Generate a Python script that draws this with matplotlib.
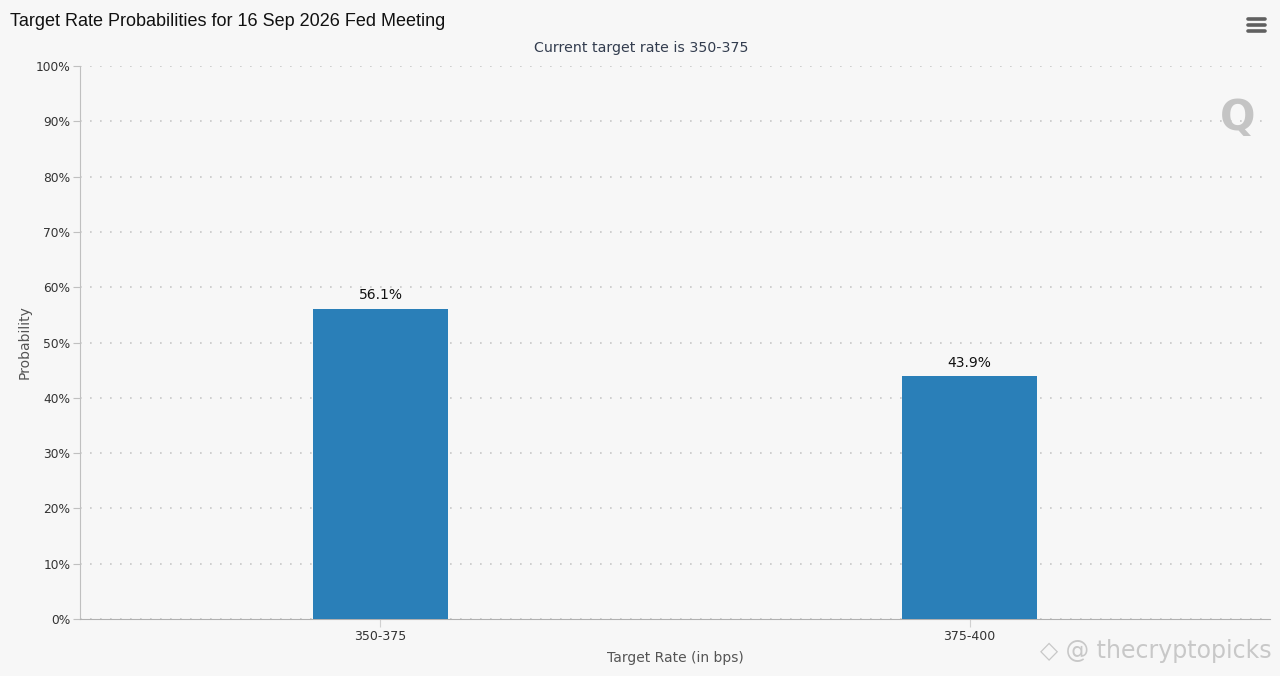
import matplotlib
matplotlib.use("Agg")
import matplotlib.pyplot as plt
from matplotlib.ticker import FuncFormatter

categories = ["350-375", "375-400"]
probabilities = [56.1, 43.9]
value_labels = ["56.1%", "43.9%"]
yticks = [0, 10, 20, 30, 40, 50, 60, 70, 80, 90, 100]

bg = "#f7f7f7"
bar_color = "#2a7fb8"

fig = plt.figure(figsize=(12.8, 6.76), dpi=100, facecolor=bg)
ax = fig.add_axes([80 / 1280, 1 - 619 / 676, 1190 / 1280, 553 / 676])
ax.set_facecolor(bg)

x = range(len(categories))
bars = ax.bar(x, probabilities, width=0.229, color=bar_color, zorder=3)
for b, lab in zip(bars, value_labels):
    ax.text(b.get_x() + b.get_width() / 2, b.get_height() + 1.2, lab,
            ha="center", va="bottom", fontsize=10, color="#111111",
            family="DejaVu Sans")

ax.set_xlim(-0.51, 1.51)
ax.set_ylim(0, 100)
ax.set_yticks(yticks)
ax.yaxis.set_major_formatter(FuncFormatter(lambda v, p: f"{int(v)}%"))
ax.set_xticks(list(x))
ax.set_xticklabels(categories)

ax.grid(axis="y", linestyle=(0, (1, 5)), color="#c8c8c8", linewidth=1.2, zorder=0)
ax.grid(axis="x", visible=False)

for s in ["top", "right"]:
    ax.spines[s].set_visible(False)
ax.spines["left"].set_color("#c0c0c0")
ax.spines["bottom"].set_color("#b0b0b0")
ax.tick_params(axis="y", length=5, color="#c0c0c0", labelsize=8.8, labelcolor="#333333", pad=2)
ax.tick_params(axis="x", length=6, color="#d0d0d0", labelsize=9, labelcolor="#333333", pad=2)
for t in ax.get_xticklabels() + ax.get_yticklabels():
    t.set_family("DejaVu Sans")

ax.set_ylabel("Probability", fontsize=10, color="#555555", labelpad=3)
ax.set_xlabel("Target Rate (in bps)", fontsize=10, color="#555555", labelpad=6)

fig.text(10 / 1280, 1 - 21 / 676, "Target Rate Probabilities for 16 Sep 2026 Fed Meeting",
         fontsize=13, family="Liberation Sans", color="#111111", ha="left", va="center")
fig.text(641 / 1280, 1 - 48 / 676, "Current target rate is 350-375",
         fontsize=10.2, color="#333d4f", ha="center", va="center")

# menu icon
for yy in [19, 25, 31]:
    fig.add_artist(plt.Line2D([1248 / 1280, 1265 / 1280], [1 - yy / 676] * 2,
                              color="#606060", linewidth=2.6, solid_capstyle="round"))

# watermarks
fig.text(1238 / 1280, 1 - 118 / 676, "Q", fontsize=30, fontweight="bold",
         color="#c4c4c4", ha="center", va="center")
fig.text(1272 / 1280, 1 - 651 / 676, "\u25c7 @ thecryptopicks", fontsize=17,
         color="#c8c8c8", ha="right", va="center")

fig.savefig("out.png", dpi=100, facecolor=bg)
